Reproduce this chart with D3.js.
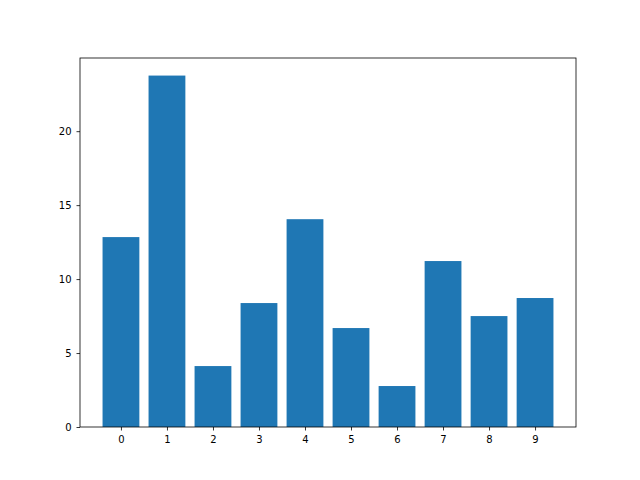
<!DOCTYPE html>
<meta charset="utf-8">
<style>
    body { margin: 0; background: #fff; }
    .axis text { font-family: "DejaVu Sans", sans-serif; font-size: 10px; fill: #000; }
    .axis path, .axis line { stroke: #000; stroke-width: 0.8; }
</style>
<body>
<div id="chart"></div>
<script src="https://d3js.org/d3.v7.min.js"></script>
<script>
    var categories = [0, 1, 2, 3, 4, 5, 6, 7, 8, 9];
    var values = [12.84, 23.76, 4.12, 8.38, 14.05, 6.69, 2.77, 11.22, 7.5, 8.72];
    var yTicks = [0, 5, 10, 15, 20];

    var margin = { top: 58, right: 64, bottom: 53, left: 80 };
    var width = 640 - margin.left - margin.right,
        height = 480 - margin.top - margin.bottom;

    var svg = d3.select("#chart").append("svg")
        .attr("width", 640).attr("height", 480)
        .append("g")
        .attr("transform", "translate(" + margin.left + "," + margin.top + ")");

    var ymax = d3.max(values) * 1.05;
    var x = d3.scaleLinear().domain([-0.89, 9.89]).range([0, width]);
    var y = d3.scaleLinear().domain([0, ymax]).range([height, 0]);

    svg.selectAll("rect.bar")
        .data(values)
        .enter().append("rect")
        .attr("class", "bar")
        .attr("x", function (d, i) { return x(categories[i] - 0.4); })
        .attr("width", function (d, i) { return x(categories[i] + 0.4) - x(categories[i] - 0.4); })
        .attr("y", function (d) { return y(d); })
        .attr("height", function (d) { return height - y(d); })
        .attr("fill", "#1f77b4");

    svg.append("g").attr("class", "x axis")
        .attr("transform", "translate(0," + height + ")")
        .call(d3.axisBottom(x).tickValues(categories).tickFormat(d3.format("d")).tickSize(3.5).tickPadding(5));

    svg.append("g").attr("class", "y axis")
        .call(d3.axisLeft(y).tickValues(yTicks).tickFormat(d3.format("d")).tickSize(3.5).tickPadding(5));

    svg.selectAll(".axis .domain").remove();
    svg.append("rect")
        .attr("width", width).attr("height", height)
        .attr("fill", "none").attr("stroke", "#000").attr("stroke-width", 0.8);
</script>
</body>
